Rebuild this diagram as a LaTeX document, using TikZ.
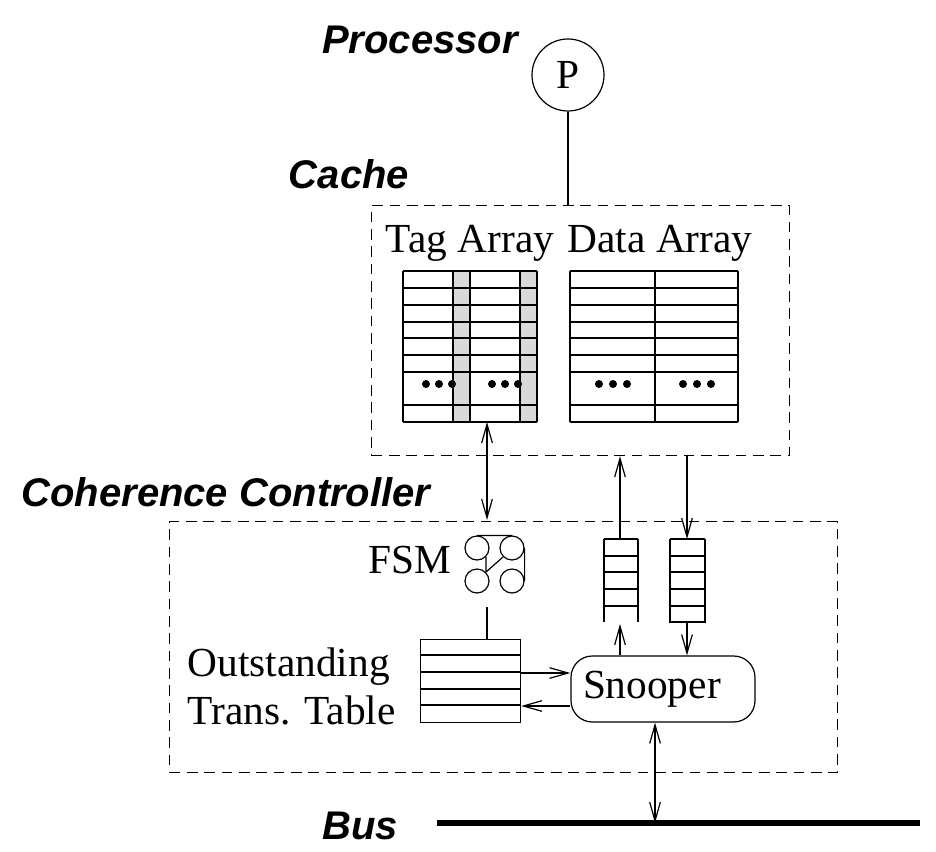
\documentclass[tikz,border=0pt]{standalone}
\usepackage{fontspec}
\setmainfont{Liberation Serif}
\newfontfamily\lblfont{Liberation Sans}
\usetikzlibrary{arrows.meta,positioning}

\begin{document}
\begin{tikzpicture}[x=0.75pt,y=-0.75pt,line width=0.9pt,
    tip/.style={-{Straight Barb[length=14pt,width=8pt]}},
    both/.style={{Straight Barb[length=14pt,width=8pt]}-{Straight Barb[length=14pt,width=8pt]}},
    title/.style={font=\lblfont\bfseries\itshape\fontsize{30}{32}\selectfont, inner sep=0pt},
    txt/.style={font=\fontsize{31}{34}\selectfont, inner sep=0pt},
    box/.style={draw, dash pattern=on 8pt off 5pt, inner sep=0pt},
    blk/.style={draw, inner sep=0pt}]
  \useasboundingbox (0,0) rectangle (936,851);
  % labels
  \node[title] (lproc) at (420,40) {Processor};
  \node[title] (lcache) at (349,174) {Cache};
  \node[title] (lcc) at (226,492) {Coherence Controller};
  \node[title] (lbus) at (360,826) {Bus};
  % processor
  \node[draw, circle, minimum size=72pt*0.75, txt] (P) at (568,75) {P};
  % cache
  \node[box, minimum width=418*0.75pt, minimum height=250*0.75pt, anchor=north west] (cache) at (371,205) {};
  \draw (P) -- (P |- cache.north);
  \node[txt] (ltag) at (470,243) {Tag Array};
  \node[txt] (ldata) at (660,243) {Data Array};
  % tag array
  \fill[gray!30] (453,271) rectangle (470,422) (520,271) rectangle (537,422);
  \foreach \y in {271,288,305,322,338,355,372,405,422}
    \draw (403,\y) -- (537,\y) (570,\y) -- (738,\y);
  \foreach \x in {403,453,470,520,537,570,655,738}
    \draw (\x,271) -- (\x,422);
  \foreach \x in {426,439,452,492,505,518,599,613,627,683,697,711}
    \fill (\x,384) circle (3pt);
  \coordinate (tag) at (487,422);
  % coherence controller
  \node[box, minimum width=668*0.75pt, minimum height=251*0.75pt, anchor=north west] (cc) at (169,521) {};
  \node[txt] (lfsm) at (410,560) {FSM};
  \foreach \n/\p in {a/{(477,548)},b/{(512,548)},c/{(477,581)},d/{(512,581)}}
    \node[draw, circle, minimum size=24*0.75pt, inner sep=0pt] (f\n) at \p {};
  \draw (fa.north) -- (fb.north) (fb.east) -- (fd.east) (fa.south east) -- (fc.north east)
        (fc.north east) -- (fb.south west);
  % outstanding transaction table
  \node[blk, minimum width=100*0.75pt, minimum height=83*0.75pt, anchor=north west] (ott) at (420,639) {};
  \foreach \y in {655,672,689,705}
    \draw (420,\y) -- (520,\y);
  \draw (487,607) -- (ott.north -| 487,0);
  \node[txt, align=left, anchor=west] (lott) at (187,686) {Outstanding\\[2pt]Trans. Table};
  % queues
  \draw (604,539) -- (604,622) (638,539) -- (638,622) (670,539) -- (670,622) -- (705,622) -- (705,539);
  \foreach \y in {539,556,572,589,606}
    \draw (604,\y) -- (638,\y) (670,\y) -- (705,\y);
  \coordinate (qin) at (620,539);
  \coordinate (qout) at (687,539);
  % snooper
  \node[draw, rounded corners=16pt, minimum width=184*0.75pt, minimum height=66*0.75pt, txt, text width=160*0.75pt] (snoop) at (663,689) {Snooper};
  % bus
  \coordinate (busl) at (437,823);
  \coordinate (busr) at (920,823);
  \draw[line width=4.5pt] (busl) -- (busr);
  % connectors
  \draw[both] (tag) -- (487,520);
  \draw[tip] (qin) -- (cache.south -| qin);
  \draw[tip] (cache.south -| qout) -- (qout);
  \draw[tip] (snoop.north -| 620,0) -- (620,624);
  \draw[tip] (687,622) -- (snoop.north -| 687,0);
  \draw[tip] (ott.east |- 0,673) -- (snoop.west |- 0,673);
  \draw[tip] (snoop.west |- 0,706) -- (ott.east |- 0,706);
  \draw[both] (snoop.south -| 655,0) -- (busl -| 655,0);
\end{tikzpicture}
\end{document}
